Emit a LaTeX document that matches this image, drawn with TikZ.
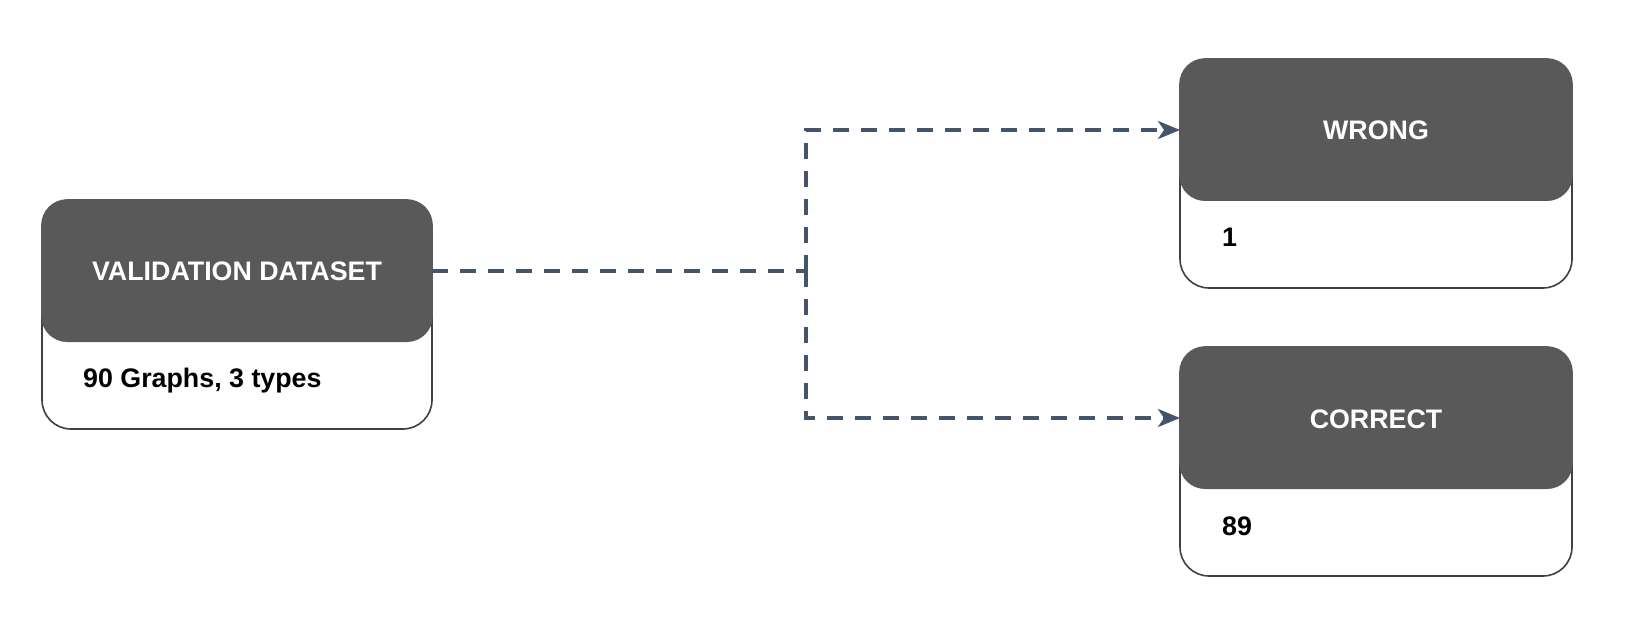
\documentclass[tikz,border=0pt]{standalone}
\usepackage{fontspec}
\setmainfont{Liberation Sans}
\usetikzlibrary{arrows.meta}
\definecolor{hdr}{RGB}{89,89,89}
\definecolor{edge}{RGB}{64,64,64}
\definecolor{conncol}{RGB}{68,84,106}
\tikzset{
  outerbox/.style={draw=edge, line width=1.6pt, fill=white, rounded corners=29pt},
  headbox/.style={fill=hdr, rounded corners=26pt},
  headtext/.style={text=white, font=\bfseries\fontsize{26.8pt}{30pt}\selectfont, inner sep=0pt, anchor=base},
  bodytext/.style={text=black, font=\bfseries\fontsize{26.8pt}{30pt}\selectfont, inner sep=0pt, anchor=base west},
  conn/.style={draw=conncol, line width=3.5pt, dash pattern=on 16pt off 12pt, -{Stealth[length=22pt,width=18pt,inset=6pt]}},
  connplain/.style={draw=conncol, line width=3.5pt, dash pattern=on 16pt off 12pt}
}
\begin{document}
\begin{tikzpicture}[x=1pt,y=-1pt]
\useasboundingbox (0,0) rectangle (1633,628);
% left box
\draw[outerbox] (42,200) rectangle (432,429);
\fill[headbox] (41.2,199.2) rectangle (432.8,342);
\coordinate (veast) at (432,271);
\node[headtext] (vtitle) at (237,281) {VALIDATION DATASET};
\node[bodytext] (vbody) at (83,387) {90 Graphs, 3 types};
% wrong box
\draw[outerbox] (1180,59) rectangle (1572,288);
\fill[headbox] (1179.2,58.2) rectangle (1572.8,201);
\coordinate (wwest) at (1180,130);
\node[headtext] (wtitle) at (1376,140) {WRONG};
\node[bodytext] (wbody) at (1222,247) {1};
% correct box
\draw[outerbox] (1180,347) rectangle (1572,576);
\fill[headbox] (1179.2,346.2) rectangle (1572.8,489);
\coordinate (cwest) at (1180,418);
\node[headtext] (ctitle) at (1376,428) {CORRECT};
\node[bodytext] (cbody) at (1222,535) {89};
% connectors
\coordinate (j) at (806,271);
\draw[connplain] (veast) -- (j);
\draw[conn] (j) |- (wwest);
\draw[conn] (j) |- (cwest);
\end{tikzpicture}
\end{document}
